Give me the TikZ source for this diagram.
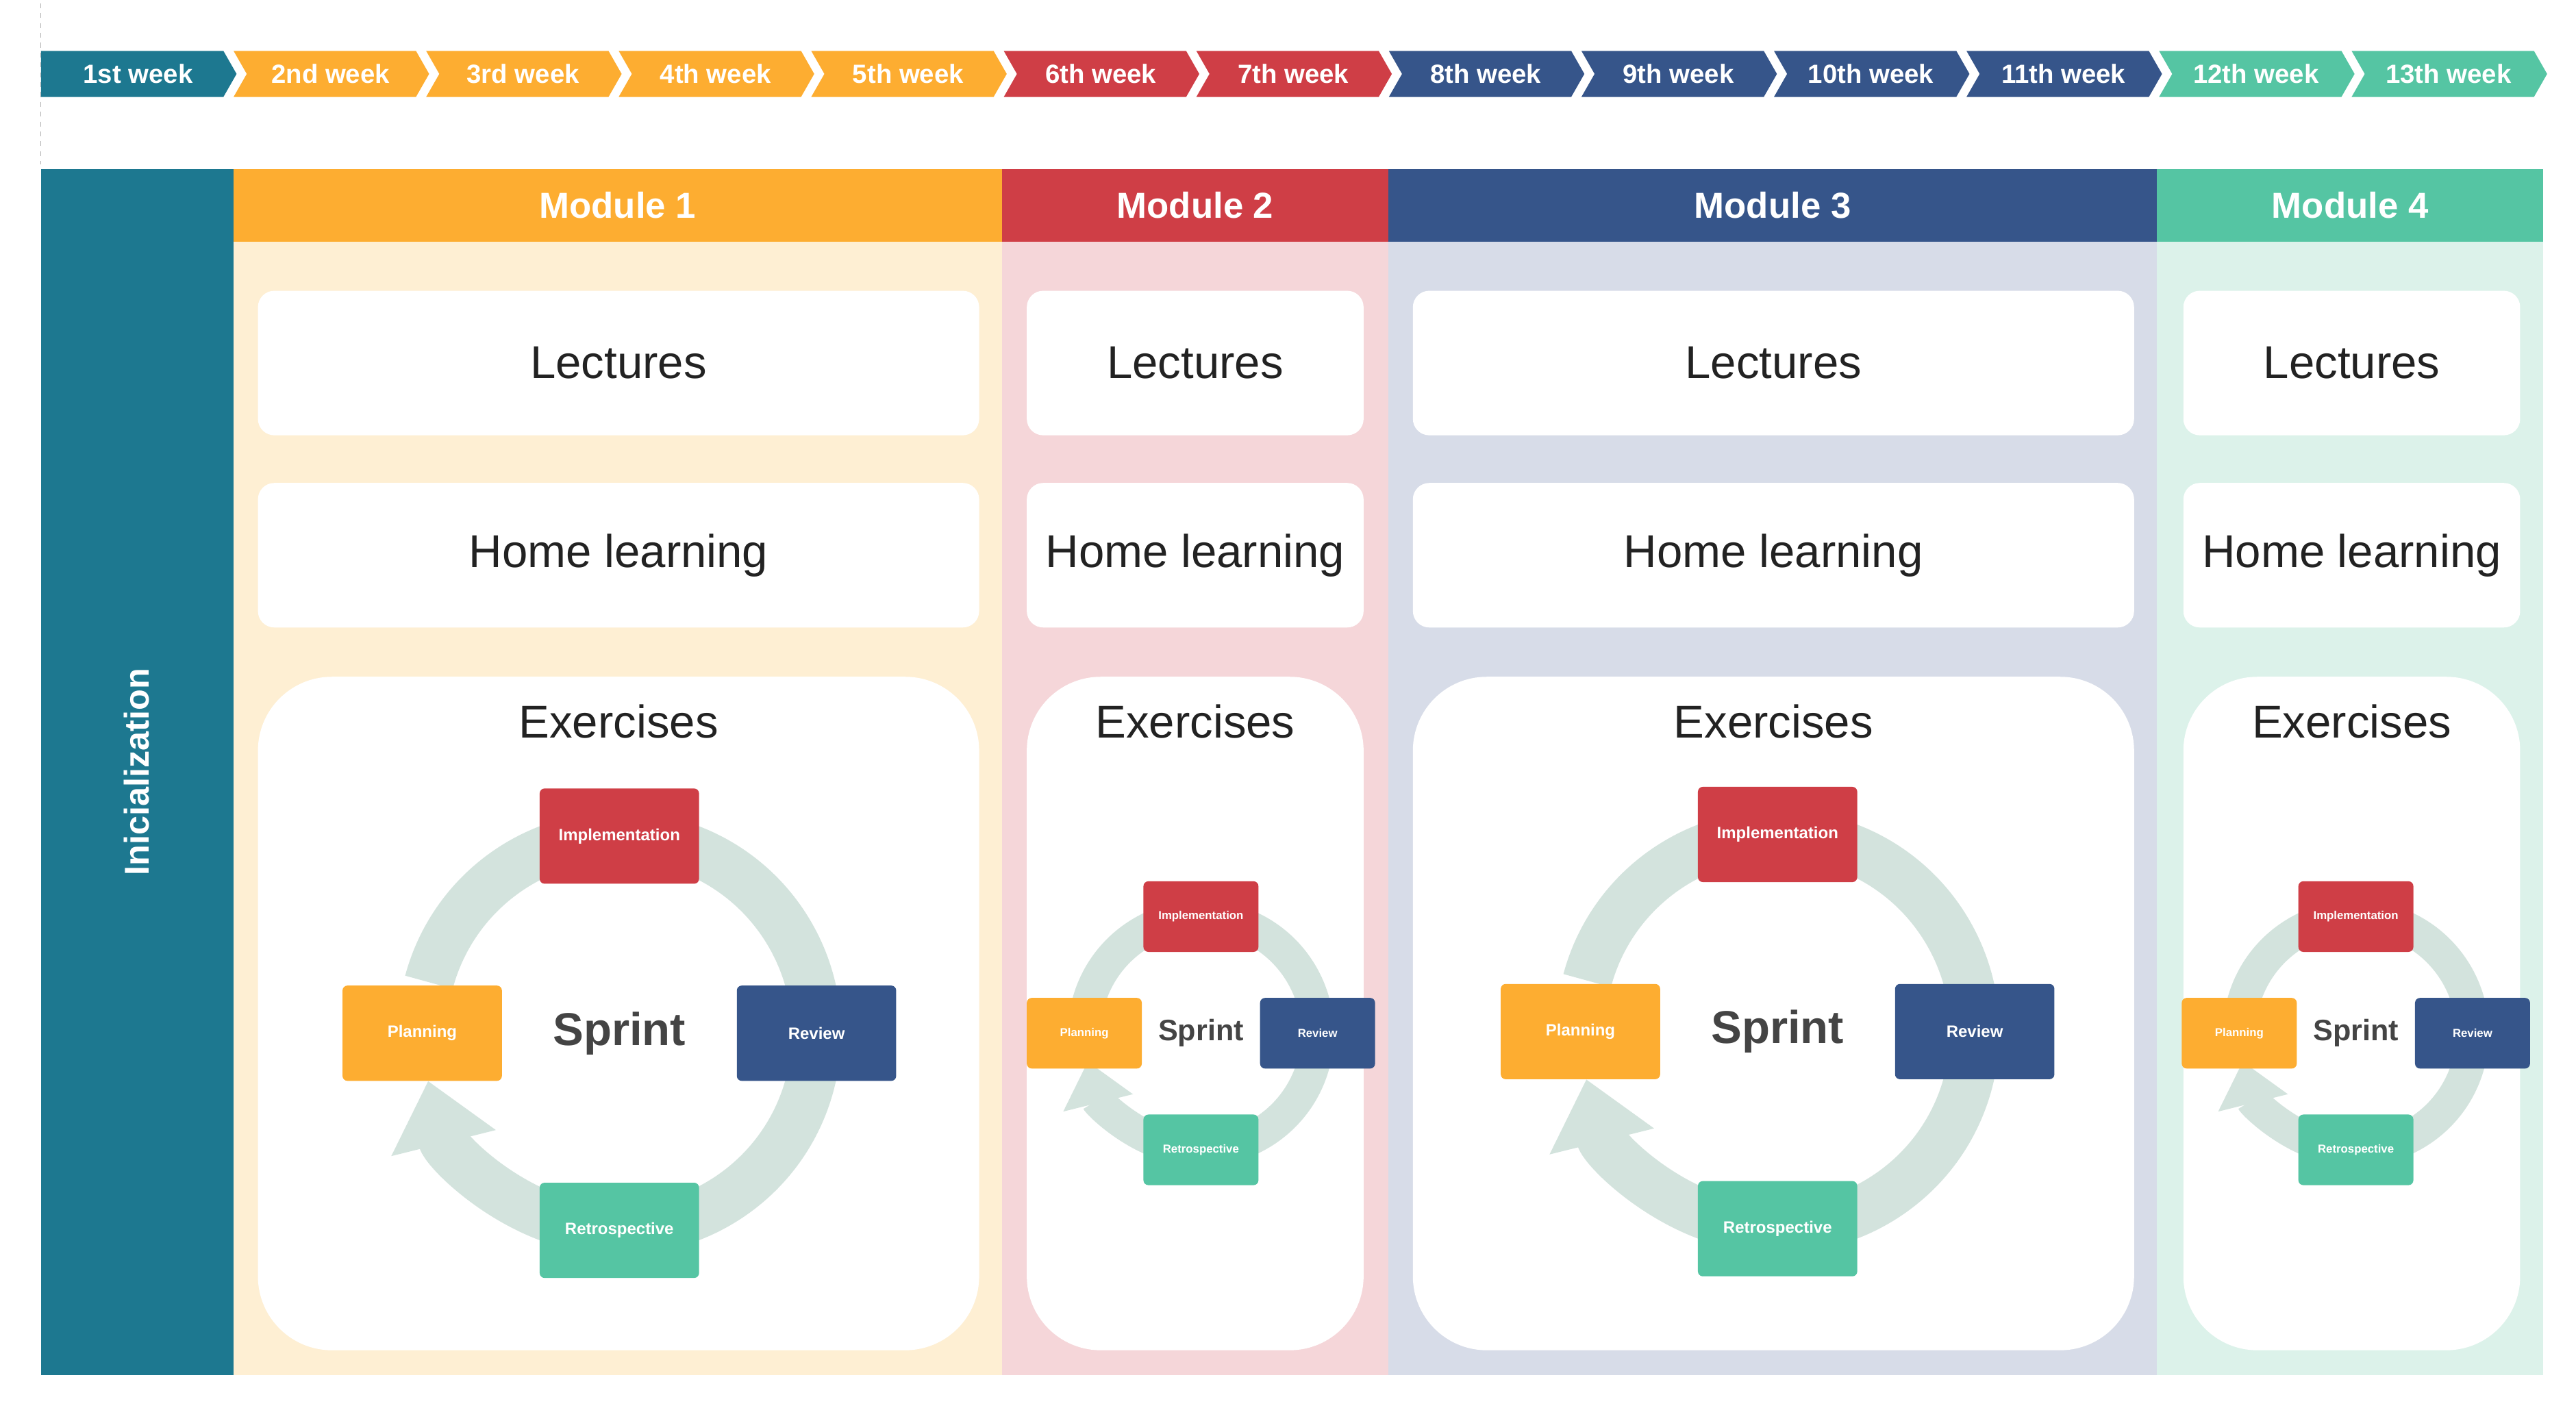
\documentclass[tikz,border=0pt]{standalone}
\usepackage{fontspec}
\setmainfont{Liberation Sans}
\usetikzlibrary{arrows.meta}
\definecolor{cteal}{HTML}{1D7890}
\definecolor{corange}{HTML}{FDAD31}
\definecolor{cred}{HTML}{CF3E46}
\definecolor{cnavy}{HTML}{36558A}
\definecolor{cgreen}{HTML}{55C5A3}
\definecolor{lorange}{HTML}{FEEFD3}
\definecolor{lred}{HTML}{F5D6D9}
\definecolor{lnavy}{HTML}{D7DCE8}
\definecolor{lgreen}{HTML}{DCF2EA}
\definecolor{ringc}{HTML}{D3E3DD}
\definecolor{txt}{HTML}{222222}
\definecolor{sprc}{HTML}{444444}
\tikzset{
  wk/.style={text=white,font=\fontsize{16}{16}\selectfont\bfseries},
  modh/.style={text=white,font=\fontsize{22}{22}\selectfont\bfseries},
  wbox/.style={fill=white,rounded corners=10pt,draw=none},
  big/.style={text=txt,font=\fontsize{28}{28}\selectfont},
  sbox/.style={rounded corners=3pt,text=white,inner sep=0pt},
}
\newcommand\sprintcyc[9]{%
\begin{scope}[shift={(#2,#3)}]
\draw[line width=#9pt,ringc,-{Triangle[width=0pt 2.1,length=0pt 1.3]}] (165:#4) arc[start angle=165,end angle=-166,radius=#4];
\node[sbox,fill=cred,minimum width=#5pt,minimum height=#6pt,font=\fontsize{#7}{#7}\selectfont\bfseries] (#1i) at (0,#4) {Implementation};
\node[sbox,fill=corange,minimum width=#5pt,minimum height=#6pt,font=\fontsize{#7}{#7}\selectfont\bfseries] (#1p) at (-#4,0) {Planning};
\node[sbox,fill=cnavy,minimum width=#5pt,minimum height=#6pt,font=\fontsize{#7}{#7}\selectfont\bfseries] (#1r) at (#4,0) {Review};
\node[sbox,fill=cgreen,minimum width=#5pt,minimum height=#6pt,font=\fontsize{#7}{#7}\selectfont\bfseries] (#1t) at (0,-#4) {Retrospective};
\node[text=sprc,font=\fontsize{#8}{#8}\selectfont\bfseries] (#1s) at (0,0) {Sprint};
\end{scope}}
\begin{document}
\begin{tikzpicture}[x=1pt,y=1pt]
\useasboundingbox (0,0) rectangle (1568,-857);
\fill[white] (0,0) rectangle (1568,-857);
\draw[gray!60,dashed] (25,-2) -- (25,-100);
% weeks
\foreach \i/\c/\t in {1/cteal/1st,2/corange/2nd,3/corange/3rd,4/corange/4th,5/corange/5th,6/cred/6th,7/cred/7th,8/cnavy/8th,9/cnavy/9th,10/cnavy/10th,11/cnavy/11th,12/cgreen/12th,13/cgreen/13th}{
  \pgfmathsetmacro\xa{25+117.2*(\i-1)}
  \pgfmathsetmacro\xb{\xa+111}
  \ifnum\i=1
    \fill[\c] (\xa,-31) -- (\xb,-31) -- (\xb+8,-45) -- (\xb,-59) -- (\xa,-59) -- cycle;
  \else
    \fill[\c] (\xa,-31) -- (\xb,-31) -- (\xb+8,-45) -- (\xb,-59) -- (\xa,-59) -- (\xa+8,-45) -- cycle;
  \fi
  \node[wk] (w\i) at (\xa+59,-45) {\t\ week};
}
% left column
\fill[cteal] (25,-103) rectangle (142,-837);
\node[text=white,font=\fontsize{21}{21}\selectfont\bfseries,rotate=90] (ini) at (83,-470) {Inicialization};
% modules
\foreach \n/\xa/\xb/\c/\l in {1/142/610/corange/lorange,2/610/845/cred/lred,3/845/1313/cnavy/lnavy,4/1313/1548/cgreen/lgreen}{
  \fill[\l] (\xa,-147) rectangle (\xb,-837);
  \fill[\c] (\xa,-103) rectangle (\xb,-147);
  \node[modh] (m\n) at ({(\xa+\xb)/2},-125) {Module \n};
}
\foreach \n/\xa/\xb in {1/157/596,2/625/830,3/860/1299,4/1329/1534}{
  \fill[wbox] (\xa,-177) rectangle (\xb,-265);
  \node[big] (lec\n) at ({(\xa+\xb)/2},-221) {Lectures};
  \fill[wbox] (\xa,-294) rectangle (\xb,-382);
  \node[big] (hl\n) at ({(\xa+\xb)/2},-338) {Home learning};
  \fill[white,rounded corners=45pt] (\xa,-412) rectangle (\xb,-822);
  \node[big] (ex\n) at ({(\xa+\xb)/2},-439) {Exercises};
}
\sprintcyc{a}{377}{-629}{120}{97}{58}{10}{28}{30}
\sprintcyc{b}{731}{-629}{71}{70}{43}{7}{18}{20}
\sprintcyc{c}{1082}{-628}{120}{97}{58}{10}{28}{30}
\sprintcyc{d}{1434}{-629}{71}{70}{43}{7}{18}{20}
\end{tikzpicture}
\end{document}
